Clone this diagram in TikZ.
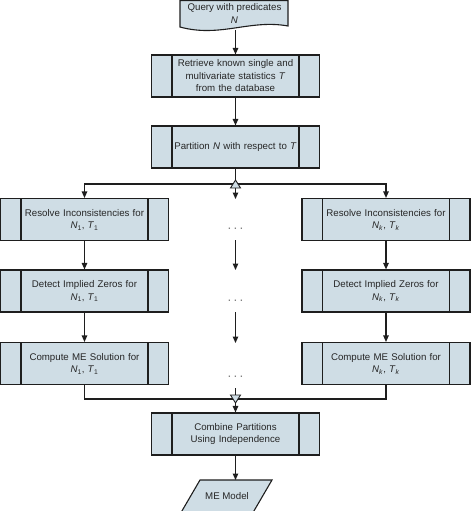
\documentclass[tikz,border=0pt]{standalone}
\usepackage{fontspec}
\setmainfont{Liberation Sans}
\usetikzlibrary{arrows.meta}
\definecolor{boxfill}{RGB}{207,221,229}
\definecolor{linec}{RGB}{30,30,30}
\definecolor{txt}{RGB}{38,38,38}
\tikzset{
  base/.style={font=\fontsize{9.7}{12.5}\selectfont, text=txt},
  proc/.style={base, draw=linec, line width=1.1pt, fill=boxfill,
    minimum width=168pt, minimum height=42pt, inner sep=0pt,
    text width=125pt, align=center,
    path picture={
      \draw[linec, line width=1.1pt] ([xshift=20.5pt]path picture bounding box.north west) -- ([xshift=20.5pt]path picture bounding box.south west);
      \draw[linec, line width=1.1pt] ([xshift=-20.5pt]path picture bounding box.north east) -- ([xshift=-20.5pt]path picture bounding box.south east);
    }},
  conn/.style={draw=linec, line width=1.2pt},
  arr/.style={conn, -{Triangle[length=6.5pt,width=5.5pt]}},
  dotsn/.style={font=\fontsize{13.5}{13.5}\selectfont, text=black!50, inner sep=0pt},
  tri/.style={draw=linec, line width=0.9pt, fill=boxfill},
}
\begin{document}
\begin{tikzpicture}[x=1pt,y=-1pt]
\useasboundingbox (0,0) rectangle (474,511);

% Query document shape
\draw[linec, line width=1.1pt, fill=boxfill] (180,0.5) -- (288,0.5) -- (288,26)
   .. controls (250,19) and (220,38) .. (180,27) -- cycle;
\node[base, align=center] (q) at (234.5,13.5) {Query with predicates\\\textit{N}};
\coordinate (qb) at (235.5,30);

\node[proc] (ret) at (235.5,76) {Retrieve known single and\\multivariate statistics \textit{T}\\from the database};
\node[proc] (part) at (235.5,147) {Partition \textit{N} with respect to \textit{T}};

\node[proc] (r1) at (84.5,219.5) {Resolve Inconsistencies for\\\textit{N}\textsubscript{1}, \textit{T}\textsubscript{1}};
\node[proc] (d1b) at (84.5,291) {Detect Implied Zeros for\\\textit{N}\textsubscript{1}, \textit{T}\textsubscript{1}};
\node[proc] (c1) at (84.5,363.5) {Compute ME Solution for\\\textit{N}\textsubscript{1}, \textit{T}\textsubscript{1}};

\node[proc] (rk) at (386,219.5) {Resolve Inconsistencies for\\\textit{N}\textsubscript{\textit{k}}, \textit{T}\textsubscript{\textit{k}}};
\node[proc] (dk) at (386,291) {Detect Implied Zeros for\\\textit{N}\textsubscript{\textit{k}}, \textit{T}\textsubscript{\textit{k}}};
\node[proc] (ck) at (386,363.5) {Compute ME Solution for\\\textit{N}\textsubscript{\textit{k}}, \textit{T}\textsubscript{\textit{k}}};

\node[proc] (comb) at (235.5,434) {Combine Partitions\\Using Independence};

% dots in the middle column
\node[dotsn] (m1) at (235.5,228.5) {.\,.\,.};
\node[dotsn] (m2) at (235.5,300.5) {.\,.\,.};
\node[dotsn] (m3) at (235.5,376.5) {.\,.\,.};

% fork / merge coordinates
\coordinate (fork) at (235.5,184);
\coordinate (forkapex) at (235.5,180);
\coordinate (forkbase) at (235.5,188);
\coordinate (fa) at (235.5,199);
\coordinate (merge) at (235.5,399);
\coordinate (mergetop) at (235.5,395);
\coordinate (mergeapex) at (235.5,403);
\coordinate (metop) at (235.5,480);

% connectors
\draw[arr] (qb) -- (ret.north);
\draw[arr] (ret.south) -- (part.north);
\draw[conn] (part.south) -- (forkapex);
\draw[arr] (fork) -| (r1.north);
\draw[arr] (fork) -| (rk.north);
\draw[arr] (forkbase) -- (fa);
\draw[tri] (235.5,180) -- (240.5,188) -- (230.5,188) -- cycle;

\draw[arr] (r1.south) -- (d1b.north);
\draw[arr] (d1b.south) -- (c1.north);
\draw[arr] (rk.south) -- (dk.north);
\draw[arr] (dk.south) -- (ck.north);

\draw[arr, shorten <=11pt] (m1) -- (235.5,270);
\draw[arr, shorten <=11pt] (m2) -- (235.5,343);

\draw[conn] (c1.south) |- (merge);
\draw[conn] (ck.south) |- (merge);
\draw[conn, shorten <=11pt] (m3) -- (mergetop);
\draw[tri] (230.5,395) -- (240.5,395) -- (235.5,403) -- cycle;
\draw[arr] (mergeapex) -- (comb.north);
\draw[arr] (comb.south) -- (metop);

% ME model parallelogram
\draw[linec, line width=1.1pt, fill=boxfill] (200,480) -- (272,480) -- (251,516) -- (179,516) -- cycle;
\node[base] (me) at (227,496) {ME Model};
\end{tikzpicture}
\end{document}
